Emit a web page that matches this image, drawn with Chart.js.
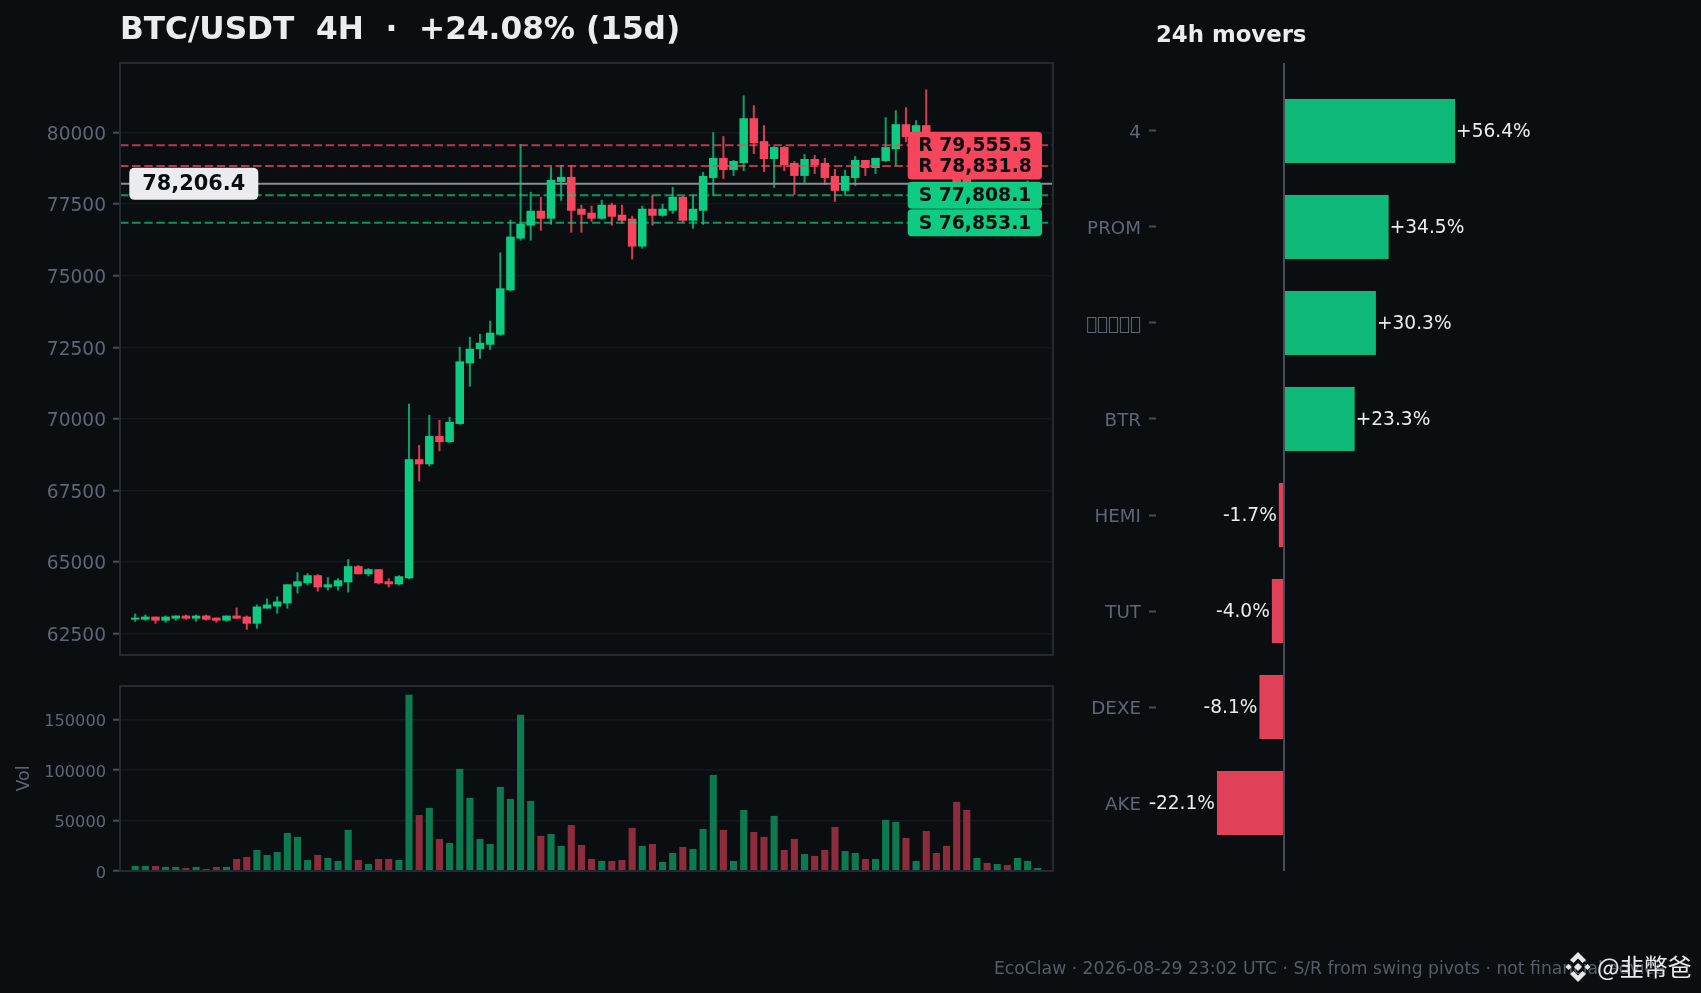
<!DOCTYPE html>
<html>
<head>
<meta charset="utf-8">
<script src="https://cdn.jsdelivr.net/npm/chart.js@4"></script>
<style>
	html, body { margin: 0; padding: 0; background: #0b0e11; }
	body { position: relative; width: 1701px; height: 993px; overflow: hidden; font-family: 'DejaVu Sans', sans-serif; }
	canvas { position: absolute; left: 0; top: 0; }
	.txt { position: absolute; white-space: pre; }
	#mainTitle { left: 120px; top: 10px; font-size: 31.2px; line-height: 36px; font-weight: bold; color: #eaecef; }
	#moversTitle { left: 1156px; top: 20px; font-size: 22.8px; line-height: 28px; font-weight: bold; color: #eaecef; }
	#footer { left: 994px; top: 957px; font-size: 17.2px; line-height: 22px; color: #565c66; }
	#mark { left: 1597px; top: 949px; font-size: 24px; line-height: 34px; color: #e6e8ea; font-family: 'Noto Sans CJK TC', sans-serif; }
	#logo { position: absolute; left: 1565px; top: 952px; }
</style>
</head>
<body>
<canvas id="priceChart" width="1701" height="993"></canvas>
<canvas id="volumeChart" width="1701" height="993"></canvas>
<canvas id="moversChart" width="1701" height="993"></canvas>
<div class="txt" id="mainTitle">BTC/USDT  4H  ·  +24.08% (15d)</div>
<div class="txt" id="moversTitle">24h movers</div>
<div class="txt" id="footer">EcoClaw · 2026-08-29 23:02 UTC · S/R from swing pivots · not financial advice</div>
<svg id="logo" width="26" height="30" viewBox="0 0 26 30">
	<g fill="#e6e8ea">
		<path d="M13 0 L21 8 L17.5 11 L13 6.5 L8.5 11 L5 8 Z"/>
		<path d="M13 30 L21 22 L17.5 19 L13 23.5 L8.5 19 L5 22 Z"/>
		<path d="M13 11 L17 15 L13 19 L9 15 Z"/>
		<path d="M3.5 12 L6.5 15 L3.5 18 L0.5 15 Z"/>
		<path d="M22.5 12 L25.5 15 L22.5 18 L19.5 15 Z"/>
	</g>
</svg>
<div class="txt" id="mark">@韭幣爸</div>
<script>
const opens = [62993,62993,63099,62958,63028,63134,63028,63134,63063,62958,63134,63099,62852,63380,63451,63557,64155,64261,64543,64120,64155,64296,64860,64578,64754,64331,64226,64437,68593,68417,69403,69192,69826,71939,72440,72590,72940,74490,76296,76748,77268,76991,78275,78449,77338,77199,76991,77477,77130,76991,76018,77338,77095,77268,77755,76921,77268,78414,79109,78692,78935,80498,79699,79075,79491,78935,78484,79075,78935,78484,77963,78414,79039,78761,79005,79421,80289,79700,80255,79600,79200,78900,78500,77700,78050,77800,78000,77850,78000,78050];
const highs = [63204,63169,63100,63134,63140,63169,63169,63169,63063,63134,63416,63134,63521,63733,63803,64226,64648,64613,64578,64472,64437,65106,64895,64789,64754,64437,64543,70530,69086,70143,69967,70072,72520,72870,72970,73430,75810,76956,79595,77928,77755,78796,78866,78866,77477,77442,77650,77546,77477,77095,77442,77824,77512,78102,77789,77824,78623,80012,79873,79039,81296,80949,80255,79525,79525,79005,79248,79213,79109,78727,78692,79178,79039,79109,80533,80775,80880,80428,81504,79900,79400,79100,78700,78100,78100,78050,78100,78100,78320,78260];
const lows = [62923,62958,62852,62887,62958,62993,62923,62958,62887,62923,63028,62641,62676,63380,63204,63380,63909,64191,63979,64014,64014,63944,64578,64508,64226,64120,64191,64402,67818,68347,68875,69157,69790,71129,72100,72410,72900,74450,76227,76227,76574,76782,77616,76505,76505,76887,76956,76748,76817,75567,75949,76748,77060,77164,76863,76644,76782,77789,78380,78484,78657,79248,78623,78067,78657,77824,78241,78553,78171,77581,77789,78136,78484,78553,78970,78831,79664,79600,79400,79100,78800,78100,77350,77350,77600,77600,77700,77700,77900,77950];
const closes = [63063,63099,62958,63099,63134,63028,63134,62993,62958,63134,63028,62852,63451,63521,63627,64226,64331,64543,64120,64226,64367,64860,64578,64754,64261,64226,64508,68593,68417,69403,69192,69896,72009,72450,72660,73010,74560,76366,76817,77268,76991,78345,78449,77268,77130,76991,77477,77060,76921,76018,77338,77095,77338,77755,76921,77338,78484,79109,78692,79005,80498,79630,79075,79491,78866,78484,79075,78866,78414,77963,78484,79039,78761,79109,79491,80289,79838,80255,79600,79200,78900,78150,78050,78050,77800,78000,77850,78050,78100,78206.4];
const volumes = [5000,5000,5000,4000,4000,3000,4000,2000,4000,4000,11900,13900,20800,15800,18800,37600,33700,10900,15800,12900,9900,40600,10900,6900,11900,11900,10900,174200,55400,62400,31700,27700,101000,72300,31700,26700,83200,71300,154400,69300,34700,36600,24800,45500,25700,11900,9900,9900,10900,42600,24800,26700,8900,17800,23800,21800,41600,95000,40600,9900,60400,38600,33700,54500,20800,31700,16800,14900,20800,43600,19800,17800,11900,11900,50500,48500,32700,9900,39600,17800,24800,68300,60400,12900,7900,6900,5900,12900,9900,3000];

const priceTicks = [62500, 65000, 67500, 70000, 72500, 75000, 77500, 80000];
const volumeTicks = [0, 50000, 100000, 150000];

const resistances = [79555.5, 78831.8];
const supports = [77808.1, 76853.1];
const lastPrice = 78206.4;

// third name shows as empty boxes in the reference, private-use chars give the same missing-glyph box
const moverNames = ['4', 'PROM', '\uE000\uE000\uE000\uE000\uE000', 'BTR', 'HEMI', 'TUT', 'DEXE', 'AKE'];
const moverValues = [56.4, 34.5, 30.3, 23.3, -1.7, -4.0, -8.1, -22.1];

const GREEN = '#0ecb81';
const RED = '#f6465d';
const FONT = "'DejaVu Sans', sans-serif";
const X_MIN = -1.5;
const X_MAX = 90.5;

Chart.defaults.font.family = FONT;
Chart.defaults.animation = false;
Chart.defaults.devicePixelRatio = 1;

const isUp = (i) => closes[i] >= opens[i];
const upDown = (up, down) => opens.map((o, i) => (isUp(i) ? up : down));
const hLine = (value, color, dash, order) => ({
	type: 'line',
	data: [{ x: X_MIN, y: value }, { x: X_MAX, y: value }],
	borderColor: color,
	borderWidth: 2,
	borderDash: dash,
	pointRadius: 0,
	order: order
});

function roundBox(ctx, x, y, w, h, r, fill) {
	ctx.beginPath();
	ctx.roundRect(x, y, w, h, r);
	ctx.fillStyle = fill;
	ctx.fill();
}

const framePlugin = {
	id: 'frame',
	afterDatasetsDraw(chart) {
		const a = chart.chartArea;
		const ctx = chart.ctx;
		ctx.save();
		ctx.strokeStyle = '#24292f';
		ctx.lineWidth = 2;
		ctx.strokeRect(a.left, a.top, a.right - a.left, a.bottom - a.top);
		ctx.restore();
	}
};

const levelTagsPlugin = {
	id: 'levelTags',
	afterDatasetsDraw(chart) {
		const ctx = chart.ctx;
		const y = chart.scales.y;
		const fmt = (v) => v.toLocaleString('en-US', { minimumFractionDigits: 1, maximumFractionDigits: 1 });
		ctx.save();
		ctx.textAlign = 'center';
		ctx.textBaseline = 'middle';

		const tags = [];
		resistances.forEach((v) => tags.push({ v: v, text: 'R ' + fmt(v), fill: RED }));
		supports.forEach((v) => tags.push({ v: v, text: 'S ' + fmt(v), fill: GREEN }));
		tags.forEach((t) => {
			roundBox(ctx, 907.7, y.getPixelForValue(t.v) - 13.5, 134.3, 27, 4, t.fill);
		});
		ctx.font = 'bold 18.8px ' + FONT;
		ctx.fillStyle = '#0b0e11';
		tags.forEach((t) => {
			ctx.fillText(t.text, 975, y.getPixelForValue(t.v) + 1);
		});

		const py = y.getPixelForValue(lastPrice);
		roundBox(ctx, 129.3, py - 16, 129, 32, 5, '#eaecef');
		ctx.font = 'bold 20.9px ' + FONT;
		ctx.fillStyle = '#0b0e11';
		ctx.fillText(fmt(lastPrice), 193.8, py + 1);
		ctx.restore();
	}
};

const moverLabelsPlugin = {
	id: 'moverLabels',
	afterDatasetsDraw(chart) {
		const ctx = chart.ctx;
		const x = chart.scales.x;
		const y = chart.scales.y;
		const zero = x.getPixelForValue(0);
		ctx.save();
		ctx.strokeStyle = '#474d57';
		ctx.lineWidth = 2;
		ctx.beginPath();
		ctx.moveTo(zero, chart.chartArea.top);
		ctx.lineTo(zero, chart.chartArea.bottom);
		ctx.stroke();

		ctx.font = '18.6px ' + FONT;
		ctx.fillStyle = '#eaecef';
		ctx.textBaseline = 'middle';
		moverValues.forEach((v, i) => {
			const end = x.getPixelForValue(v);
			const text = (v > 0 ? '+' : '') + v.toFixed(1) + '%';
			ctx.textAlign = v > 0 ? 'left' : 'right';
			ctx.fillText(text, v > 0 ? end + 1 : end - 2, y.getPixelForValue(i) + 1);
		});
		ctx.restore();
	}
};

function valueAxis(min, max, ticks, fontSize) {
	return {
		min: min,
		max: max,
		afterBuildTicks: (scale) => { scale.ticks = ticks.map((v) => ({ value: v })); },
		afterFit: (scale) => { scale.width = 120; },
		border: { display: false },
		grid: { color: '#15191e', lineWidth: 1.4, tickColor: '#474d57', tickWidth: 2, tickLength: 7 },
		ticks: { color: '#5e6673', padding: 7, labelOffset: 2.5, font: { size: fontSize }, callback: (v) => String(v) }
	};
}

const timeAxis = () => ({ type: 'linear', min: X_MIN, max: X_MAX, offset: false, display: false });

new Chart(document.getElementById('priceChart'), {
	type: 'bar',
	data: {
		datasets: [
			...resistances.map((v) => hLine(v, 'rgba(246, 70, 93, 0.75)', [8.5, 3.6], 0)),
			...supports.map((v) => hLine(v, 'rgba(14, 203, 129, 0.7)', [8.5, 3.6], 0)),
			{
				data: opens.map((o, i) => ({ x: i, y: [o, closes[i]] })),
				backgroundColor: upDown(GREEN, RED),
				grouped: false,
				categoryPercentage: 1,
				barPercentage: 0.84,
				order: 1
			},
			hLine(lastPrice, '#8a8d91', [], 2),
			{
				data: opens.map((o, i) => ({ x: i, y: [lows[i], highs[i]] })),
				backgroundColor: upDown('#0c9f68', '#d23c52'),
				grouped: false,
				categoryPercentage: 1,
				barPercentage: 0.2,
				order: 3
			}
		]
	},
	options: {
		responsive: false,
		layout: { padding: { top: 63, bottom: 338, right: 648 } },
		plugins: { legend: { display: false }, tooltip: { enabled: false } },
		scales: { x: timeAxis(), y: valueAxis(61759, 82426, priceTicks, 18.6) }
	},
	plugins: [framePlugin, levelTagsPlugin]
});

const volumeAxis = valueAxis(0, 182900, volumeTicks, 16.2);
volumeAxis.title = { display: true, text: 'Vol', color: '#5e6673', font: { size: 17.5 }, padding: { top: 14, bottom: 0 } };

new Chart(document.getElementById('volumeChart'), {
	type: 'bar',
	data: {
		datasets: [{
			data: volumes.map((v, i) => ({ x: i, y: v })),
			backgroundColor: upDown('#0d7950', '#8c2c3c'),
			grouped: false,
			categoryPercentage: 1,
			barPercentage: 0.7
		}]
	},
	options: {
		responsive: false,
		layout: { padding: { top: 686, bottom: 122, right: 648 } },
		plugins: { legend: { display: false }, tooltip: { enabled: false } },
		scales: { x: timeAxis(), y: volumeAxis }
	},
	plugins: [framePlugin]
});

new Chart(document.getElementById('moversChart'), {
	type: 'bar',
	data: {
		datasets: [{
			data: moverValues.map((v, i) => ({ x: v, y: i })),
			backgroundColor: moverValues.map((v) => (v > 0 ? '#0eb979' : '#e04058')),
			grouped: false,
			categoryPercentage: 1,
			barPercentage: 0.667
		}]
	},
	options: {
		responsive: false,
		indexAxis: 'y',
		layout: { padding: { top: 63, bottom: 122, right: 235 } },
		plugins: { legend: { display: false }, tooltip: { enabled: false } },
		scales: {
			x: { type: 'linear', min: -42.2, max: 60, offset: false, display: false },
			y: {
				type: 'linear',
				reverse: true,
				offset: false,
				min: -0.708,
				max: 7.708,
				afterBuildTicks: (scale) => { scale.ticks = moverNames.map((n, i) => ({ value: i })); },
				afterFit: (scale) => { scale.width = 1156; },
				border: { display: false },
				grid: { offset: false, drawOnChartArea: false, tickColor: '#474d57', tickWidth: 2, tickLength: 7 },
				ticks: { color: '#5e6673', padding: 8, labelOffset: 2.5, font: { size: 18.3 }, callback: (v) => moverNames[v] }
			}
		}
	},
	plugins: [moverLabelsPlugin]
});
</script>
</body>
</html>
